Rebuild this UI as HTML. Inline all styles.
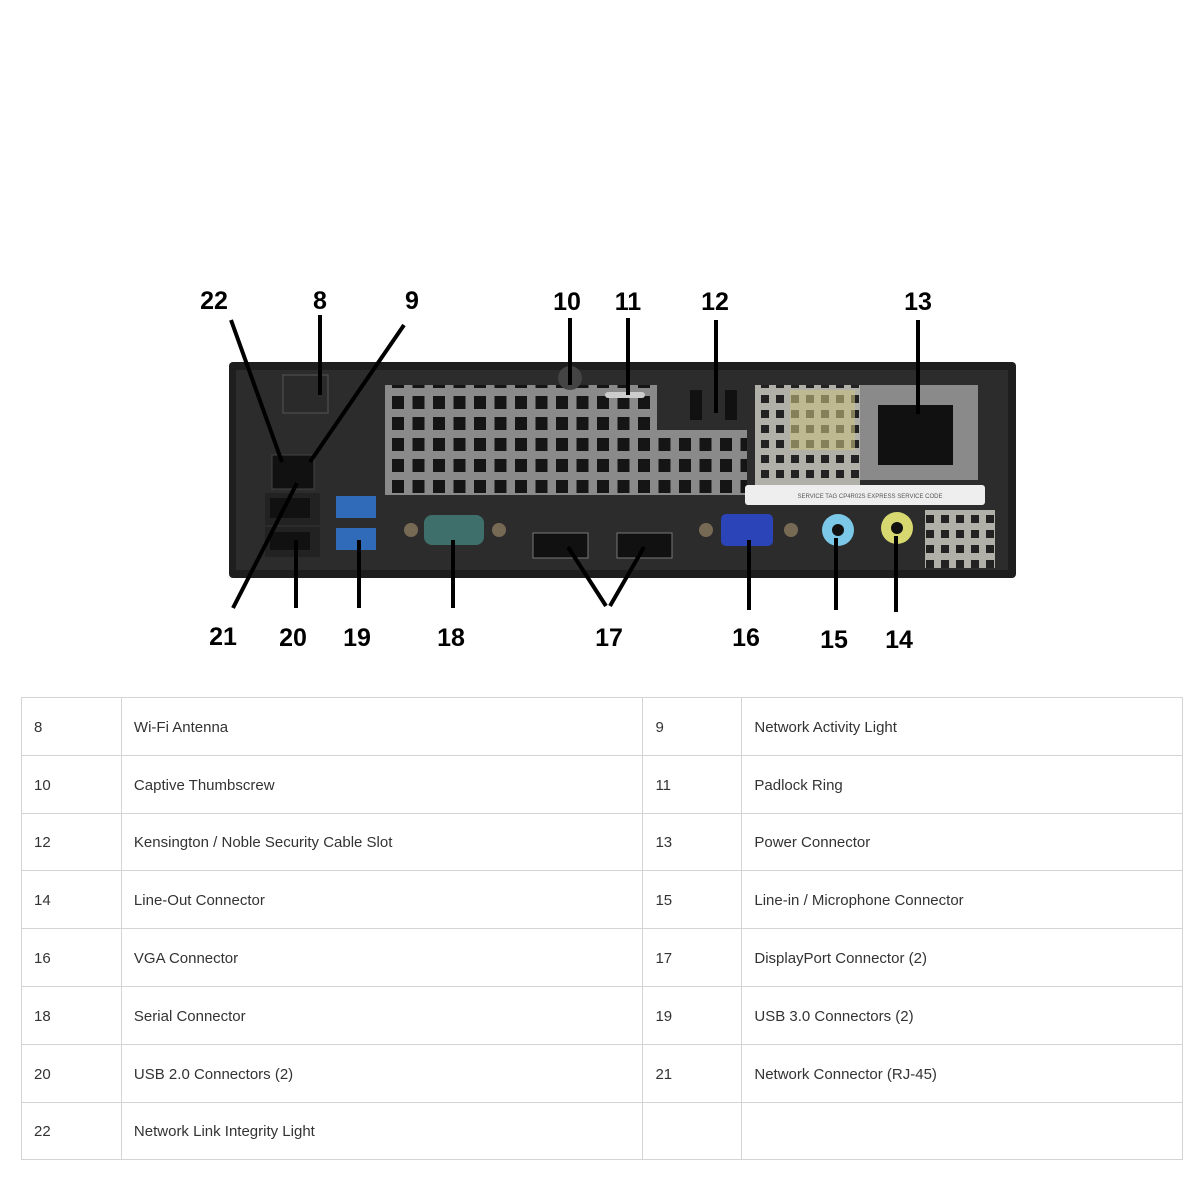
<!DOCTYPE html>
<html><head><style>
body{margin:0;background:#fff;width:1200px;height:1200px;position:relative;font-family:"Liberation Sans",sans-serif;overflow:hidden}
svg{position:absolute;left:0;top:0}
table{position:absolute;left:21px;top:697px;border-collapse:collapse;width:1162px;font-size:15px;color:#333}
td{border:1px solid #d4d4d4;height:57.8px;padding:2px 0 0 12px;box-sizing:border-box}
</style></head><body>
<svg width="1200" height="690" viewBox="0 0 1200 690">
<defs>
<pattern id="g" x="388" y="392" width="20.5" height="21" patternUnits="userSpaceOnUse">
<rect width="20.5" height="21" fill="#8a8a8a"/><rect x="4" y="4" width="12" height="13" fill="#151515"/>
</pattern>
<pattern id="g2" x="758" y="392" width="15" height="15" patternUnits="userSpaceOnUse">
<rect width="15" height="15" fill="#b0b0a8"/><rect x="3" y="3" width="8" height="8" fill="#222"/>
</pattern>
</defs>
<rect x="229" y="362" width="787" height="216" rx="4" fill="#1e1e1e"/>
<rect x="236" y="370" width="772" height="200" fill="#2c2c2c"/>
<rect x="385" y="385" width="272" height="110" fill="url(#g)"/>
<rect x="657" y="430" width="90" height="65" fill="url(#g)"/>
<rect x="755" y="385" width="105" height="100" fill="url(#g2)"/>
<rect x="790" y="390" width="65" height="60" fill="#c8c080" opacity="0.6"/>
<rect x="860" y="385" width="118" height="95" fill="#8a8a8a"/>
<rect x="878" y="405" width="75" height="60" fill="#111"/>
<rect x="745" y="485" width="240" height="20" rx="3" fill="#eee"/>
<text x="870" y="498" font-size="6" fill="#555" text-anchor="middle">SERVICE TAG   CP4R02S   EXPRESS SERVICE CODE</text>
<circle cx="570" cy="378" r="12" fill="#444"/>
<rect x="605" y="392" width="40" height="6" rx="3" fill="#ccc"/>
<rect x="690" y="390" width="12" height="30" fill="#111"/><rect x="725" y="390" width="12" height="30" fill="#111"/>
<rect x="283" y="375" width="45" height="38" fill="#2a2a2a" stroke="#555"/>
<rect x="272" y="455" width="42" height="34" fill="#111" stroke="#444"/>
<rect x="265" y="493" width="55" height="32" fill="#222"/><rect x="270" y="498" width="40" height="20" fill="#111"/>
<rect x="265" y="527" width="55" height="30" fill="#222"/><rect x="270" y="532" width="40" height="18" fill="#111"/>
<rect x="336" y="496" width="40" height="22" fill="#2f6bb8"/><rect x="336" y="528" width="40" height="22" fill="#2f6bb8"/>
<rect x="424" y="515" width="60" height="30" rx="8" fill="#3f6f6a"/>
<circle cx="411" cy="530" r="7" fill="#776a55"/><circle cx="499" cy="530" r="7" fill="#776a55"/>
<rect x="533" y="533" width="55" height="25" fill="#111" stroke="#777"/>
<rect x="617" y="533" width="55" height="25" fill="#111" stroke="#777"/>
<rect x="721" y="514" width="52" height="32" rx="5" fill="#2b45b8"/>
<circle cx="706" cy="530" r="7" fill="#776a55"/><circle cx="791" cy="530" r="7" fill="#776a55"/>
<circle cx="838" cy="530" r="16" fill="#7cc8e8"/><circle cx="838" cy="530" r="6" fill="#111"/>
<circle cx="897" cy="528" r="16" fill="#d8d870"/><circle cx="897" cy="528" r="6" fill="#111"/>
<rect x="925" y="510" width="70" height="58" fill="url(#g2)"/>
<g stroke="#000" stroke-width="4" fill="none">
<line x1="231" y1="320" x2="282" y2="462"/>
<line x1="320" y1="315" x2="320" y2="395"/>
<line x1="404" y1="325" x2="310" y2="462"/>
<line x1="570" y1="318" x2="570" y2="385"/>
<line x1="628" y1="318" x2="628" y2="395"/>
<line x1="716" y1="320" x2="716" y2="413"/>
<line x1="918" y1="320" x2="918" y2="414"/>
<line x1="297" y1="483" x2="233" y2="608"/>
<line x1="296" y1="540" x2="296" y2="608"/>
<line x1="359" y1="540" x2="359" y2="608"/>
<line x1="453" y1="540" x2="453" y2="608"/>
<line x1="568" y1="547" x2="606" y2="606"/>
<line x1="644" y1="547" x2="610" y2="606"/>
<line x1="749" y1="540" x2="749" y2="610"/>
<line x1="836" y1="538" x2="836" y2="610"/>
<line x1="896" y1="536" x2="896" y2="612"/>
</g>
<g font-weight="bold" font-size="25" text-anchor="middle" fill="#000">
<text x="214" y="309">22</text><text x="320" y="309">8</text><text x="412" y="309">9</text>
<text x="567" y="310">10</text><text x="628" y="310">11</text><text x="715" y="310">12</text><text x="918" y="310">13</text>
<text x="223" y="645">21</text><text x="293" y="646">20</text><text x="357" y="646">19</text><text x="451" y="646">18</text>
<text x="609" y="646">17</text><text x="746" y="646">16</text><text x="834" y="648">15</text><text x="899" y="648">14</text>
</g>
</svg>
<table>
<colgroup><col style="width:100px"><col style="width:522px"><col style="width:99px"><col style="width:441px"></colgroup>
<tr><td>8</td><td>Wi-Fi Antenna</td><td>9</td><td>Network Activity Light</td></tr>
<tr><td>10</td><td>Captive Thumbscrew</td><td>11</td><td>Padlock Ring</td></tr>
<tr><td>12</td><td>Kensington / Noble Security Cable Slot</td><td>13</td><td>Power Connector</td></tr>
<tr><td>14</td><td>Line-Out Connector</td><td>15</td><td>Line-in / Microphone Connector</td></tr>
<tr><td>16</td><td>VGA Connector</td><td>17</td><td>DisplayPort Connector (2)</td></tr>
<tr><td>18</td><td>Serial Connector</td><td>19</td><td>USB 3.0 Connectors (2)</td></tr>
<tr><td>20</td><td>USB 2.0 Connectors (2)</td><td>21</td><td>Network Connector (RJ-45)</td></tr>
<tr><td>22</td><td>Network Link Integrity Light</td><td></td><td></td></tr>
</table>
</body></html>
